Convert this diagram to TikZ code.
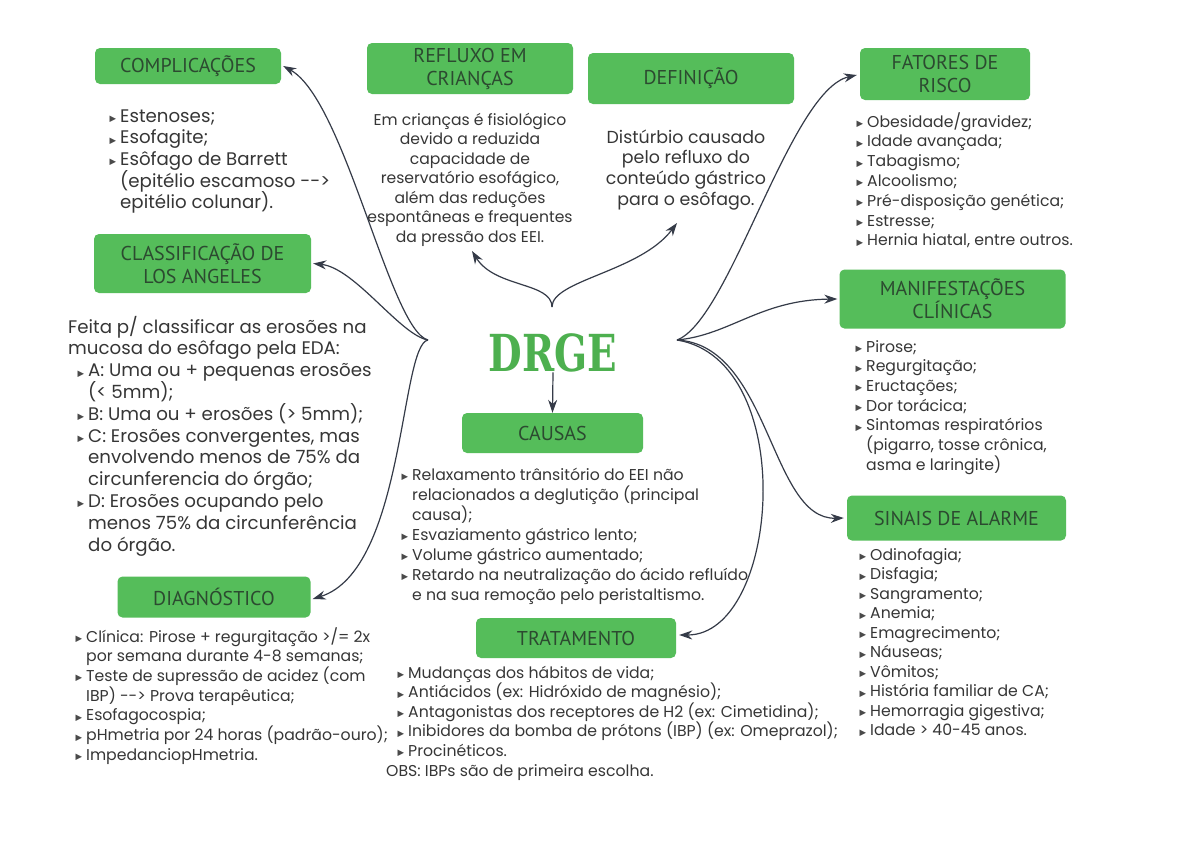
\documentclass[tikz,border=0pt]{standalone}
\usepackage{fontspec}
\usepackage{graphicx}
\usetikzlibrary{arrows.meta}
\setmainfont{Poppins}
\newfontfamily\hfont{PT Sans}
\newfontfamily\bulfont{DejaVu Sans}
\newfontfamily\drgefont{DejaVu Serif}
\definecolor{boxg}{HTML}{55BD5A}
\definecolor{headt}{HTML}{2C4A30}
\definecolor{drgec}{HTML}{4DB04F}
\definecolor{txt}{HTML}{363636}
\definecolor{bulc}{HTML}{4A4A4A}
\definecolor{conn}{HTML}{353B48}
\newcommand{\bu}{\makebox[0pt][r]{\raisebox{0.5pt}{\textcolor{bulc}{\bulfont\fontsize{8.5}{9}\selectfont ▶}}\hspace{4pt}}}
\newcommand{\tlines}[6]{\foreach \t [count=\i from 0] in {#6}{\node[#5] (#1\i) at (#2,{#3+#4*\i}) {\t};}}
\tikzset{
  head/.style={fill=boxg, rounded corners=5pt, inner sep=0pt, align=center, text=headt,
    font=\hfont\fontsize{20}{23}\selectfont},
  body/.style={anchor=base west, inner sep=0pt, text=txt, font=\fontsize{15.7}{18}\selectfont},
  bodyc/.style={anchor=base, inner sep=0pt, text=txt},
  conn/.style={draw=conn, line width=1.2pt, -{Stealth[length=13pt,width=9pt]}},
}
\begin{document}
\begin{tikzpicture}[x=1pt,y=-1pt]
\useasboundingbox[fill=white] (0,0) rectangle (1200,849);

% headers
\node[head, minimum width=186pt, minimum height=36pt] (hCpl) at (188,66) {COMPLICAÇÕES};
\node[head, minimum width=206pt, minimum height=51pt] (hRef) at (470,68.5) {REFLUXO EM\\CRIANÇAS};
\node[head, minimum width=206pt, minimum height=51pt] (hDef) at (691,78.5) {DEFINIÇÃO};
\node[head, minimum width=170pt, minimum height=52pt] (hFat) at (945,74) {FATORES DE\\RISCO};
\node[head, minimum width=217pt, minimum height=59pt] (hCla) at (202.5,263.5) {CLASSIFICAÇÃO DE\\LOS ANGELES};
\node[head, minimum width=226pt, minimum height=59pt] (hMan) at (952.5,299) {MANIFESTAÇÕES\\CLÍNICAS};
\node[head, minimum width=181pt, minimum height=40pt] (hCau) at (552.5,433) {CAUSAS};
\node[head, minimum width=219pt, minimum height=45pt] (hSin) at (956.5,518) {SINAIS DE ALARME};
\node[head, minimum width=193pt, minimum height=41pt] (hDia) at (214,597) {DIAGNÓSTICO};
\node[head, minimum width=200pt, minimum height=40pt] (hTra) at (576,638) {TRATAMENTO};

% central title
\node[inner sep=0pt, text=drgec, font=\drgefont\bfseries\fontsize{51}{51}\selectfont] (drge) at (553,353) {\scalebox{0.76}[1]{DRGE}};

% texts
\tlines{cpl}{120}{122}{21.7}{body, font=\fontsize{18.2}{21}\selectfont}{{\bu Estenoses;},{\bu Esofagite;},{\bu Esôfago de Barrett},{(epitélio escamoso -{}->},{epitélio colunar).}}
\tlines{ref}{470}{125}{19.5}{bodyc, font=\fontsize{15.6}{18}\selectfont}{{Em crianças é fisiológico},{devido a reduzida},{capacidade de},{reservatório esofágico,},{além das reduções},{espontâneas e frequentes},{da pressão dos EEI.}}
\tlines{def}{686}{143}{20.7}{bodyc, font=\fontsize{17.4}{20}\selectfont}{{Distúrbio causado},{pelo refluxo do},{conteúdo gástrico},{para o esôfago.}}
\tlines{fat}{867}{127}{19.8}{body}{{\bu Obesidade/gravidez;},{\bu Idade avançada;},{\bu Tabagismo;},{\bu Alcoolismo;},{\bu Pré-disposição genética;},{\bu Estresse;},{\bu Hernia hiatal, entre outros.}}
\tlines{cla}{68}{333}{21.8}{body, font=\fontsize{18.2}{21}\selectfont}{{Feita p/ classificar as erosões na},{mucosa do esôfago pela EDA:}}
\tlines{clb}{88}{376.6}{21.8}{body, font=\fontsize{18.2}{21}\selectfont}{{\bu A: Uma ou + pequenas erosões},{(< 5mm);},{\bu B: Uma ou + erosões (> 5mm);},{\bu C: Erosões convergentes, mas},{envolvendo menos de 75\% da},{circunferencia do órgão;},{\bu D: Erosões ocupando pelo},{menos 75\% da circunferência},{do órgão.}}
\tlines{man}{866}{352}{19.7}{body}{{\bu Pirose;},{\bu Regurgitação;},{\bu Eructações;},{\bu Dor torácica;},{\bu Sintomas respiratórios},{(pigarro, tosse crônica,},{asma e laringite)}}
\tlines{cau}{412}{480}{20}{body}{{\bu Relaxamento trânsitório do EEI não},{relacionados a deglutição (principal},{causa);},{\bu Esvaziamento gástrico lento;},{\bu Volume gástrico aumentado;},{\bu Retardo na neutralização do ácido refluído},{e na sua remoção pelo peristaltismo.}}
\tlines{sin}{870}{560}{19.5}{body}{{\bu Odinofagia;},{\bu Disfagia;},{\bu Sangramento;},{\bu Anemia;},{\bu Emagrecimento;},{\bu Náuseas;},{\bu Vômitos;},{\bu História familiar de CA;},{\bu Hemorragia gigestiva;},{\bu Idade > 40-45 anos.}}
\tlines{dia}{86}{642}{19.7}{body}{{\bu Clínica: Pirose + regurgitação >/= 2x},{por semana durante 4-8 semanas;},{\bu Teste de supressão de acidez (com},{IBP) -{}-> Prova terapêutica;},{\bu Esofagocospia;},{\bu pHmetria por 24 horas (padrão-ouro);},{\bu ImpedanciopHmetria.}}
\tlines{tra}{408}{678}{19.5}{body}{{\bu Mudanças dos hábitos de vida;},{\bu Antiácidos (ex: Hidróxido de magnésio);},{\bu Antagonistas dos receptores de H2 (ex: Cimetidina);},{\bu Inibidores da bomba de prótons (IBP) (ex: Omeprazol);},{\bu Procinéticos.}}
\node[body] (obs) at (386,776) {OBS: IBPs são de primeira escolha.};

% hubs
\coordinate (L) at (428,340);
\coordinate (R) at (677,340);
\coordinate (T) at (552,307);
\coordinate (refTip) at (472,251);
\coordinate (defTip) at (677,223);

% connectors
\draw[conn] (L) .. controls (390,330) and (345,100) .. ([xshift=2pt]hCpl.east);
\draw[conn] (L) .. controls (400,335) and (355,268) .. ([xshift=2pt]hCla.east);
\draw[conn] (L) .. controls (400,345) and (405,570) .. ([xshift=2pt,yshift=-2pt]hDia.east);
\draw[conn] (T) .. controls (552,282) and (495,288) .. (refTip);
\draw[conn] (T) .. controls (552,280) and (640,272) .. (defTip);
\draw[conn] (drge.south) -- (hCau.north);
\draw[conn] (R) .. controls (730,320) and (790,90) .. ([xshift=-3pt,yshift=-1pt]hFat.west);
\draw[conn] (R) .. controls (730,335) and (760,300) .. ([xshift=-2pt]hMan.west);
\draw[conn] (R) .. controls (770,345) and (770,520) .. ([xshift=-3pt]hSin.west);
\draw[conn] (R) .. controls (800,360) and (780,635) .. ([xshift=3pt,yshift=3pt]hTra.east);
\end{tikzpicture}
\end{document}
